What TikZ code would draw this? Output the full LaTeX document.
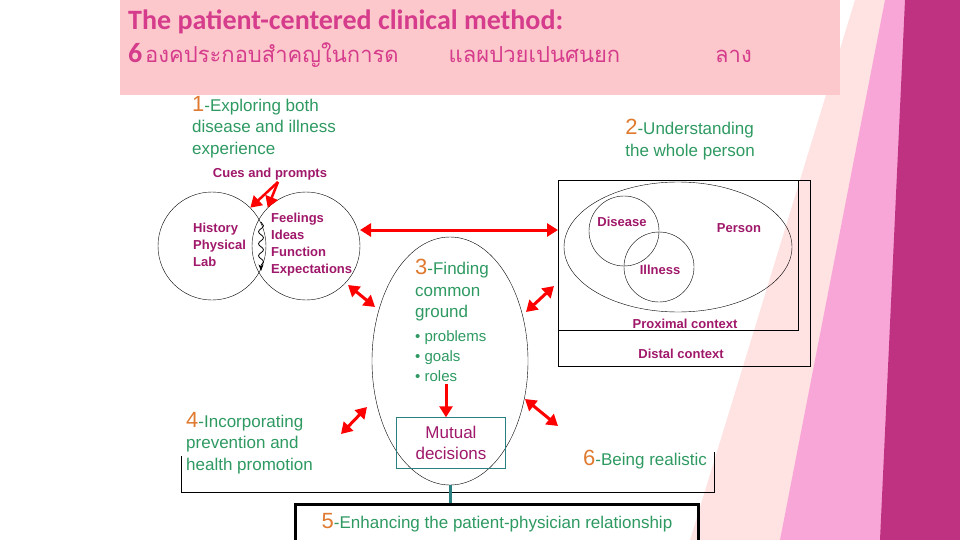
\documentclass[tikz,border=0pt]{standalone}
\usepackage{fontspec}
\setmainfont{Liberation Sans}
\newfontfamily\thaifont[Script=Thai]{Loma}
\newfontfamily\titlefont{Carlito}
\usetikzlibrary{arrows.meta,decorations.pathmorphing,shapes.geometric}
\definecolor{stepgreen}{HTML}{2E9A62}
\definecolor{numorange}{HTML}{E07A30}
\definecolor{lblpurple}{HTML}{A0186A}
\definecolor{titlepink}{HTML}{D63C8C}
\definecolor{bandpink}{HTML}{FCC8CC}
\definecolor{boxteal}{HTML}{2A7F80}
\tikzset{
  stage/.style={text=stepgreen, font=\fontsize{17}{21.5}\selectfont, inner sep=0pt, align=left},
  lbl/.style={text=lblpurple, font=\bfseries\fontsize{13}{17}\selectfont, inner sep=0pt, align=left},
  link/.style={red, line width=3pt, {Triangle[length=11pt,width=13pt]}-{Triangle[length=11pt,width=13pt]}},
  push/.style={red, line width=3pt, -{Triangle[length=11pt,width=13pt]}},
  ring/.style={black, thin}
}
\newcommand{\num}[1]{{\color{numorange}\fontsize{22}{22}\selectfont #1}}
\begin{document}
\begin{tikzpicture}[x=1pt,y=-1pt]
  \useasboundingbox (0,0) rectangle (960,540);
  % background
  \fill[white] (0,0) rectangle (960,540);
  \fill[pink!45] (855,0) -- (960,0) -- (960,540) -- (690,540) -- cycle;
  \fill[magenta!35] (885,0) -- (960,0) -- (960,540) -- (780,540) -- cycle;
  \fill[magenta!75!black] (905,0) -- (960,0) -- (960,540) -- (880,540) -- cycle;
  \fill[bandpink] (120,0) rectangle (840,95);
  \node[anchor=west, text=titlepink, font=\titlefont\bfseries\fontsize{28}{28}\selectfont, inner sep=0pt] (title) at (128,22) {The patient-centered clinical method:};
  \node[anchor=west, text=titlepink, inner sep=0pt] (subtitle) at (128,55)
    {{\titlefont\bfseries\fontsize{28}{28}\selectfont 6} {\thaifont\fontsize{22}{22}\selectfont องคประกอบสำคญในการด\hspace{50pt}แลผปวยเปนศนยก\hspace{95pt}ลาง}};

  % component 1
  \node[stage, anchor=north west] (one) at (192,96) {\num{1}-Exploring both\\disease and illness\\experience};
  \node[lbl] (cues) at (270,174) {Cues and prompts};
  \node[ring, circle, minimum size=108pt, draw] (bio) at (212,246) {};
  \node[ring, circle, minimum size=108pt, draw] (ill) at (306,246) {};
  \node[lbl, anchor=west] (hist) at (193,245) {History\\Physical\\Lab};
  \node[lbl, anchor=west] (feel) at (271,245) {Feelings\\Ideas\\Function\\Expectations};
  \coordinate (fork) at (278,182);
  \draw[push, line width=2.5pt] (fork) -- (bio.north east);
  \draw[push, line width=2.5pt] (fork) -- (ill.north west);
  \draw[thick, -{Stealth}, decorate, decoration={snake, amplitude=2.5pt, segment length=12pt, post length=4pt}] (261,222) -- (261,271);

  % component 2
  \node[stage, anchor=north east, align=left] (two) at (755,119) {\num{2}-Understanding\\the whole person};
  \draw (558,180) rectangle (810,366);
  \draw (558,180) rectangle (798,330);
  \node[ring, ellipse, draw, minimum width=228pt, minimum height=130pt] (person) at (678,247) {};
  \node[ring, circle, draw, minimum size=70pt] (dis) at (624,231) {};
  \node[ring, circle, draw, minimum size=70pt] (illn) at (659,267) {};
  \node[lbl] (dislbl) at (622,222) {Disease};
  \node[lbl] (perlbl) at (739,228) {Person};
  \node[lbl] (illlbl) at (660,270) {Illness};
  \node[lbl] (prox) at (685,324) {Proximal context};
  \node[lbl] (dist) at (681,354) {Distal context};
  \coordinate (feelend) at (360,230);
  \coordinate (ctx) at (558,230);
  \draw[link] (feelend) -- (ctx);

  % component 3
  \node[ring, ellipse, draw, minimum width=156pt, minimum height=248pt] (ground) at (450,361) {};
  \node[stage, anchor=north west] (three) at (415,259) {\num{3}-Finding\\common\\ground};
  \node[stage, anchor=north west, font=\fontsize{15}{20}\selectfont] (bul) at (415,330) {\textbullet\ problems\\\textbullet\ goals\\\textbullet\ roles};
  \node[draw=boxteal, text=lblpurple, font=\fontsize{17}{21}\selectfont, align=center, minimum width=109pt, minimum height=51pt, inner sep=0pt] (mutual) at (451,443) {Mutual\\decisions};
  \coordinate (rolesend) at (446,384);
  \draw[push] (rolesend) -- (mutual.north -| rolesend);
  \draw[link] (348,285) -- (375,307);
  \draw[link] (526,312) -- (554,286);
  \draw[link] (341,434) -- (367,407);
  \draw[link] (525,399) -- (558,426);

  % components 4 and 6
  \node[stage, anchor=north west] (four) at (186,412) {\num{4}-Incorporating\\prevention and\\health promotion};
  \node[stage, anchor=west] (six) at (583,460) {\num{6}-Being realistic};
  \draw (181,456) -- (181,492) -- (714,492) -- (714,452);

  % component 5
  \node[draw, line width=3pt, stage, anchor=north west, minimum width=403pt, minimum height=37pt, inner xsep=7pt] (five) at (294,503) {\num{5}-Enhancing the patient-physician relationship};
  \draw[boxteal, line width=3pt] (ground.south) -- (five.north -| ground.south);
\end{tikzpicture}
\end{document}
